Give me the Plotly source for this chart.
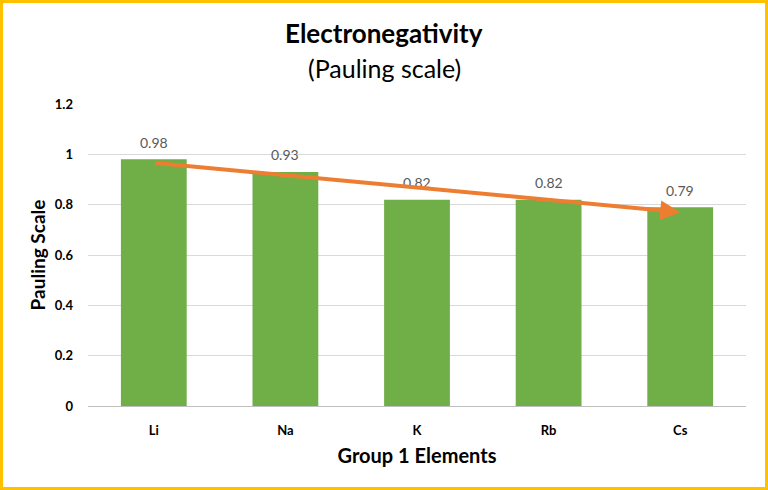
import plotly.graph_objects as go

elements = ["Li", "Na", "K", "Rb", "Cs"]
values = [0.98, 0.93, 0.82, 0.82, 0.79]
trend_start = 0.966   # trend arrow (at Li)
trend_end = 0.770     # trend arrow (at Cs)
yticks = [0, 0.2, 0.4, 0.6, 0.8, 1, 1.2]
ytick_labels = ["0", "0.2", "0.4", "0.6", "0.8", "1", "1.2"]

W, H = 768, 490
L, R, T, B = 88, 22, 104, 84
FONT = "Lato"
pw, ph = W - L - R, H - T - B

fig = go.Figure()
fig.add_trace(go.Bar(
    x=elements, y=values,
    marker=dict(color="#70AE48", line=dict(width=0)),
    hoverinfo="x+y",
))

annotations = []
for e, v in zip(elements, values):
    annotations.append(dict(
        x=e, y=v, xref="x", yref="y", text=f"{v:.2f}", showarrow=False,
        yshift=17, font=dict(family=FONT, size=14, color="#595959"),
    ))
# trend arrow
annotations.append(dict(
    x=elements[-1], y=trend_end, ax=elements[0], ay=trend_start,
    xref="x", yref="y", axref="x", ayref="y",
    showarrow=True, arrowhead=2, arrowsize=1.0, arrowwidth=4,
    arrowcolor="#ED7D31", text="", standoff=0,
))
# titles
cx = (384 - L) / pw
annotations.append(dict(
    x=cx, y=(H - 33 - B) / ph, xref="paper", yref="paper", yanchor="middle",
    text="<b>Electronegativity</b>", showarrow=False,
    font=dict(family=FONT, size=26, color="#000000"),
))
annotations.append(dict(
    x=cx, y=(H - 68 - B) / ph, xref="paper", yref="paper", yanchor="middle",
    text="(Pauling scale)", showarrow=False,
    font=dict(family=FONT, size=25, color="#000000"),
))

border = dict(
    type="rect", xref="paper", yref="paper",
    x0=(-L + 1.5) / pw, x1=(pw + R - 1.5) / pw,
    y0=(-B + 1.5) / ph, y1=(ph + T - 1.5) / ph,
    line=dict(color="#FFC000", width=3), fillcolor="rgba(0,0,0,0)", layer="above",
)

fig.update_layout(
    width=W, height=H,
    margin=dict(l=L, r=R, t=T, b=B),
    paper_bgcolor="white", plot_bgcolor="white",
    bargap=0.5, showlegend=False,
    font=dict(family=FONT),
    annotations=annotations,
    shapes=[border],
    xaxis=dict(
        title=dict(text="<b>Group 1 Elements</b>", font=dict(family=FONT, size=20, color="#000000"), standoff=12),
        tickvals=elements, ticktext=[f"<b>{e}</b>" for e in elements],
        tickfont=dict(family=FONT, size=13, color="#000000"),
        showline=True, linecolor="#BFBFBF", linewidth=1,
        ticks="", ticklabelstandoff=12,
    ),
    yaxis=dict(
        title=dict(text="<b>Pauling Scale</b>", font=dict(family=FONT, size=19, color="#000000"), standoff=4),
        range=[0, 1.2], tickvals=yticks, ticktext=[f"<b>{t}</b>" for t in ytick_labels],
        tickfont=dict(family=FONT, size=13, color="#000000"),
        showgrid=True, gridcolor="#D9D9D9", gridwidth=1,
        zeroline=False, ticks="", ticklabelstandoff=14,
    ),
)

fig.write_html("out.html")
